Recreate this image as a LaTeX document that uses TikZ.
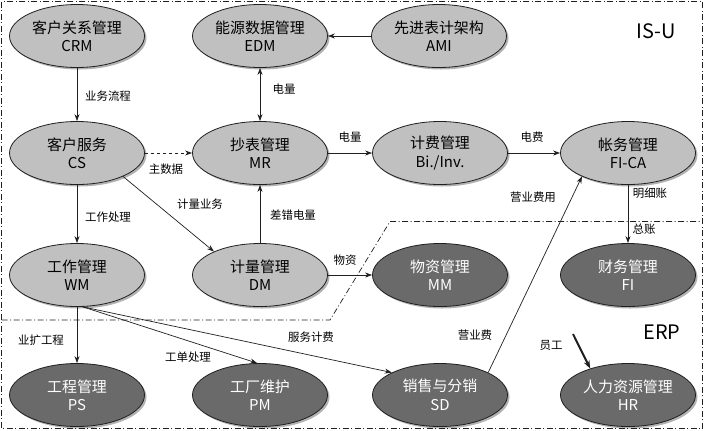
\documentclass[tikz,border=0pt]{standalone}
\usepackage{fontspec}
\setmainfont{Noto Sans CJK SC}
\usetikzlibrary{shadows,arrows.meta,shapes.geometric}
\definecolor{lightnode}{HTML}{C0C0C0}
\definecolor{darknode}{HTML}{6A6A6A}
\definecolor{linegray}{HTML}{202020}
\tikzset{
  modbase/.style={ellipse, draw=linegray, line width=0.8bp, minimum width=135bp, minimum height=63bp, inner sep=0pt, align=center,
    font=\fontsize{15}{18.5}\selectfont, drop shadow={shadow xshift=2bp, shadow yshift=-2bp, opacity=0.3, fill=black}},
  isu/.style={modbase, fill=lightnode, text=black},
  erp/.style={modbase, fill=darknode, text=white},
  conn/.style={draw=linegray, line width=0.7bp, -{Stealth[length=7bp,width=5bp]}},
  lbl/.style={font=\fontsize{11.5}{13}\selectfont, text=black, inner sep=0pt},
  region/.style={draw=linegray, line width=0.7bp, dash pattern=on 6bp off 2.5bp on 1bp off 2.5bp},
  big/.style={font=\fontsize{20}{22}\selectfont, inner sep=0pt}
}
\begin{document}
\begin{tikzpicture}[x=1bp,y=-1bp]
\useasboundingbox (0,0) rectangle (704,430);
\fill[white] (0,0) rectangle (704,430);
% regions
\draw[region] (1.5,1.5) rectangle (702.5,428.5);
\draw[region] (1.5,320) -- (330,320) -- (390,221.5) -- (702.5,221.5);
% nodes
\node[isu] (crm) at (77,36) {客户关系管理\\CRM};
\node[isu] (edm) at (260,36) {能源数据管理\\EDM};
\node[isu] (ami) at (439,36) {先进表计架构\\AMI};
\node[isu] (cs) at (77,153) {客户服务\\CS};
\node[isu] (mr) at (260,153) {抄表管理\\MR};
\node[isu] (bi) at (440,153) {计费管理\\Bi./Inv.};
\node[isu] (fica) at (628,153) {帐务管理\\FI-CA};
\node[isu] (wm) at (77,275) {工作管理\\WM};
\node[isu] (dm) at (260,275) {计量管理\\DM};
\node[erp] (mm) at (440,275) {物资管理\\MM};
\node[erp] (fi) at (628,275) {财务管理\\FI};
\node[erp] (ps) at (77,395) {工程管理\\PS};
\node[erp] (pm) at (260,395) {工厂维护\\PM};
\node[erp] (sd) at (440,395) {销售与分销\\SD};
\node[erp] (hr) at (628,395) {人力资源管理\\HR};
% region titles
\node[big] (isutitle) at (656,31) {IS-U};
\node[big] (erptitle) at (662,332) {ERP};
% connectors
\draw[conn] (crm) -- (cs);
\draw[conn,{Stealth[length=7bp,width=5bp]}-{Stealth[length=7bp,width=5bp]}] (edm) -- (mr);
\draw[conn] (ami) -- (edm);
\draw[conn,dashed] (cs) -- (mr);
\draw[conn] (mr) -- (bi);
\draw[conn] (bi) -- (fica);
\draw[conn] (cs.-27) -- (dm.153);
\draw[conn] (cs) -- (wm);
\draw[conn] (dm) -- (mr);
\draw[conn] (dm) -- (mm);
\draw[conn] (fica) -- (fi);
\draw[conn] (sd.25) -- (fica.207);
\draw[conn] (wm) -- (ps);
\draw[conn] (wm.-80) -- (pm.95);
\draw[conn] (wm.-80) -- (sd.155);
\coordinate (staff) at (573,334);
\draw[draw=linegray, line width=2bp, -{Stealth[length=8bp,width=6bp]}] (staff) -- (hr.145);
% labels
\node[lbl] (l1) at (108,96) {业务流程};
\node[lbl] (l2) at (284,89) {电量};
\node[lbl] (l3) at (166,169) {主数据};
\node[lbl] (l4) at (350,137) {电量};
\node[lbl] (l5) at (532,137) {电费};
\node[lbl] (l6) at (200,204) {计量业务};
\node[lbl] (l7) at (108,217) {工作处理};
\node[lbl] (l8) at (293,215) {差错电量};
\node[lbl] (l9) at (345,260) {物资};
\node[lbl] (l10) at (533,197) {营业费用};
\node[lbl] (l11) at (650,193) {明细账};
\node[lbl] (l12) at (644,229) {总账};
\node[lbl] (l13) at (41,340) {业扩工程};
\node[lbl] (l14) at (188,357) {工单处理};
\node[lbl] (l15) at (311,337) {服务计费};
\node[lbl] (l16) at (475,335) {营业费};
\node[lbl] (l17) at (551,345) {员工};
\end{tikzpicture}
\end{document}
